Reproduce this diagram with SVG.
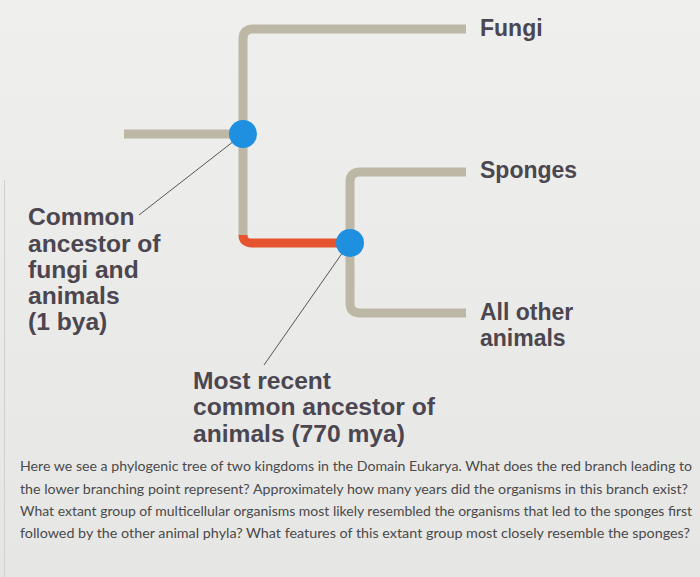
<svg xmlns="http://www.w3.org/2000/svg" width="700" height="577" viewBox="0 0 700 577">
<defs>
<linearGradient id="bg" x1="0" y1="0" x2="0" y2="1">
<stop offset="0" stop-color="#efefed"/>
<stop offset="1" stop-color="#e6e6e5"/>
</linearGradient>
</defs>
<style>
.br{fill:none;stroke:#bcb8a5;stroke-width:9;stroke-linecap:butt}
.red{fill:none;stroke:#e6532f;stroke-width:9;stroke-linecap:butt}
.dot{fill:#1f8fe0}
.lead{stroke:#555;stroke-width:1;fill:none}
.lbl{font-family:"Liberation Sans",Arial,sans-serif;font-weight:bold;font-size:23px;fill:#4b4650}
.lbl2{font-family:"Liberation Sans",Arial,sans-serif;font-weight:bold;font-size:24.6px;fill:#4b4650}
.q{font-family:Lato,"Liberation Sans",sans-serif;font-size:14px;fill:#4a4a4a}
</style>
<rect width="700" height="577" fill="url(#bg)"/>
<line x1="4.5" y1="180" x2="4.5" y2="577" stroke="#cfcfcf" stroke-width="1"/>
<g id="connectors">
<path class="br" d="M124 134 H243"/>
<path class="br" d="M466 29 H253 Q243 29 243 39 V236"/>
<path class="red" d="M243 235 Q243 243 252 243 H350"/>
<path class="br" d="M466 172 H360 Q350 172 350 182 V303 Q350 313 360 313 H466"/>
<line class="lead" x1="234" y1="141" x2="139" y2="215"/>
<line class="lead" x1="343" y1="252" x2="264" y2="365"/>
</g>
<g id="node-root"><circle class="dot" cx="243" cy="134" r="14"/></g>
<g id="node-animals"><circle class="dot" cx="350" cy="243" r="14"/></g>
<g id="label-fungi"><text class="lbl" x="480" y="36">Fungi</text></g>
<g id="label-sponges"><text class="lbl" x="480" y="178">Sponges</text></g>
<g id="label-others"><text class="lbl" x="480" y="320">All other</text><text class="lbl" x="480" y="346">animals</text></g>
<g id="label-common">
<text class="lbl2" x="28" y="225">Common</text>
<text class="lbl2" x="28" y="252">ancestor of</text>
<text class="lbl2" x="28" y="278">fungi and</text>
<text class="lbl2" x="28" y="304">animals</text>
<text class="lbl2" x="28" y="330">(1 bya)</text>
</g>
<g id="label-recent">
<text class="lbl2" x="193" y="389">Most recent</text>
<text class="lbl2" x="193" y="415">common ancestor of</text>
<text class="lbl2" x="193" y="442">animals (770 mya)</text>
</g>
<g id="question">
<text class="q" x="20" y="471" textLength="672" lengthAdjust="spacingAndGlyphs">Here we see a phylogenic tree of two kingdoms in the Domain Eukarya.  What does the red branch leading to</text>
<text class="q" x="20" y="494" textLength="668" lengthAdjust="spacingAndGlyphs">the lower branching point represent?  Approximately how many years did the organisms in this branch exist?</text>
<text class="q" x="20" y="516" textLength="672" lengthAdjust="spacingAndGlyphs" style="font-size:13.4px">What extant group of multicellular organisms most likely resembled the organisms that led to the sponges first</text>
<text class="q" x="20" y="538" textLength="670" lengthAdjust="spacingAndGlyphs">followed by the other animal phyla?   What features of this extant group most closely resemble the sponges?</text>
</g>
</svg>
